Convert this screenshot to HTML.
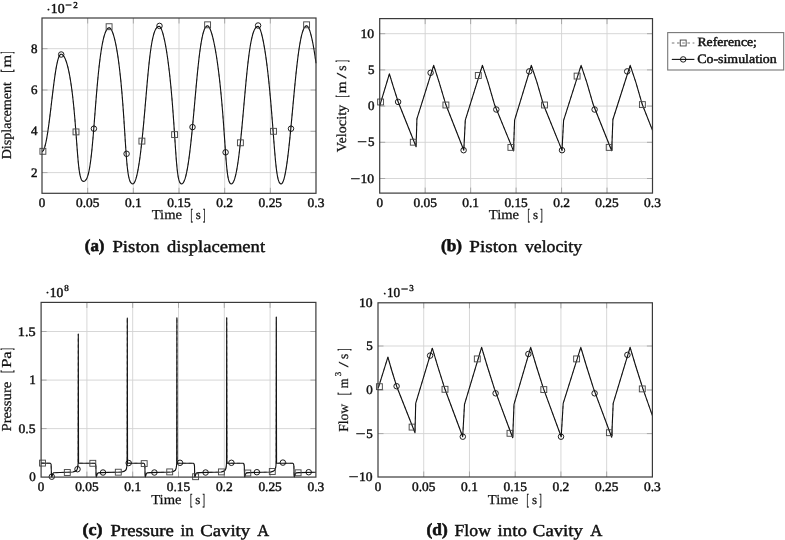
<!DOCTYPE html>
<html><head><meta charset="utf-8"><title>Figure</title><style>
html,body{margin:0;padding:0;background:#fff;}
svg{display:block;}
text{font-family:"Liberation Serif",serif;fill:#111;stroke:#111;stroke-width:0.45px;text-rendering:geometricPrecision;}
.tk{font-size:12.6px;}
.sup{font-size:9px;}
.lb{font-size:12.8px;}
.cap{font-size:15.4px;}
.cap .b{font-weight:bold;}
.lt{font-size:12.4px;}
.g{stroke:#d2d2d2;stroke-width:0.9;}
.tkm{stroke:#9a9a9a;stroke-width:0.8;}
.ax{fill:none;stroke:#3a3a3a;stroke-width:1.2;}
.ref{fill:none;stroke:#8a8a8a;stroke-width:0.9;stroke-dasharray:3 3;}
.cs{fill:none;stroke:#111;stroke-width:1.1;stroke-linejoin:round;}
.mk rect,.mk circle,.mkl{fill:none;stroke:#111;stroke-width:0.95;}
.mk rect,rect.mkl{stroke:#4a4a4a;}
.lg{fill:#fff;stroke:#777;stroke-width:1.1;}
</style></head>
<body><svg width="785" height="540" viewBox="0 0 785 540">
<rect width="785" height="540" fill="#fff"/>
<g>
<line class="g" x1="42.00" y1="172.60" x2="316.00" y2="172.60"/>
<line class="g" x1="42.00" y1="131.30" x2="316.00" y2="131.30"/>
<line class="g" x1="42.00" y1="90.00" x2="316.00" y2="90.00"/>
<line class="g" x1="42.00" y1="48.70" x2="316.00" y2="48.70"/>
<line class="g" x1="87.67" y1="18.00" x2="87.67" y2="193.30"/>
<line class="g" x1="133.33" y1="18.00" x2="133.33" y2="193.30"/>
<line class="g" x1="179.00" y1="18.00" x2="179.00" y2="193.30"/>
<line class="g" x1="224.67" y1="18.00" x2="224.67" y2="193.30"/>
<line class="g" x1="270.33" y1="18.00" x2="270.33" y2="193.30"/>
<line class="g" x1="379.70" y1="33.70" x2="652.50" y2="33.70"/>
<line class="g" x1="379.70" y1="69.90" x2="652.50" y2="69.90"/>
<line class="g" x1="379.70" y1="106.10" x2="652.50" y2="106.10"/>
<line class="g" x1="379.70" y1="142.30" x2="652.50" y2="142.30"/>
<line class="g" x1="379.70" y1="178.50" x2="652.50" y2="178.50"/>
<line class="g" x1="425.17" y1="18.60" x2="425.17" y2="193.10"/>
<line class="g" x1="470.63" y1="18.60" x2="470.63" y2="193.10"/>
<line class="g" x1="516.10" y1="18.60" x2="516.10" y2="193.10"/>
<line class="g" x1="561.57" y1="18.60" x2="561.57" y2="193.10"/>
<line class="g" x1="607.03" y1="18.60" x2="607.03" y2="193.10"/>
<line class="g" x1="41.10" y1="428.60" x2="315.90" y2="428.60"/>
<line class="g" x1="41.10" y1="380.10" x2="315.90" y2="380.10"/>
<line class="g" x1="41.10" y1="331.50" x2="315.90" y2="331.50"/>
<line class="g" x1="86.90" y1="302.40" x2="86.90" y2="477.10"/>
<line class="g" x1="132.70" y1="302.40" x2="132.70" y2="477.10"/>
<line class="g" x1="178.50" y1="302.40" x2="178.50" y2="477.10"/>
<line class="g" x1="224.30" y1="302.40" x2="224.30" y2="477.10"/>
<line class="g" x1="270.10" y1="302.40" x2="270.10" y2="477.10"/>
<line class="g" x1="378.00" y1="346.00" x2="652.40" y2="346.00"/>
<line class="g" x1="378.00" y1="390.00" x2="652.40" y2="390.00"/>
<line class="g" x1="378.00" y1="433.60" x2="652.40" y2="433.60"/>
<line class="g" x1="423.73" y1="302.80" x2="423.73" y2="477.00"/>
<line class="g" x1="469.47" y1="302.80" x2="469.47" y2="477.00"/>
<line class="g" x1="515.20" y1="302.80" x2="515.20" y2="477.00"/>
<line class="g" x1="560.93" y1="302.80" x2="560.93" y2="477.00"/>
<line class="g" x1="606.67" y1="302.80" x2="606.67" y2="477.00"/>
<line class="tkm" x1="42.00" y1="172.60" x2="47.50" y2="172.60"/>
<line class="tkm" x1="310.50" y1="172.60" x2="316.00" y2="172.60"/>
<line class="tkm" x1="42.00" y1="131.30" x2="47.50" y2="131.30"/>
<line class="tkm" x1="310.50" y1="131.30" x2="316.00" y2="131.30"/>
<line class="tkm" x1="42.00" y1="90.00" x2="47.50" y2="90.00"/>
<line class="tkm" x1="310.50" y1="90.00" x2="316.00" y2="90.00"/>
<line class="tkm" x1="42.00" y1="48.70" x2="47.50" y2="48.70"/>
<line class="tkm" x1="310.50" y1="48.70" x2="316.00" y2="48.70"/>
<line class="tkm" x1="87.67" y1="193.30" x2="87.67" y2="187.80"/>
<line class="tkm" x1="87.67" y1="18.00" x2="87.67" y2="23.50"/>
<line class="tkm" x1="133.33" y1="193.30" x2="133.33" y2="187.80"/>
<line class="tkm" x1="133.33" y1="18.00" x2="133.33" y2="23.50"/>
<line class="tkm" x1="179.00" y1="193.30" x2="179.00" y2="187.80"/>
<line class="tkm" x1="179.00" y1="18.00" x2="179.00" y2="23.50"/>
<line class="tkm" x1="224.67" y1="193.30" x2="224.67" y2="187.80"/>
<line class="tkm" x1="224.67" y1="18.00" x2="224.67" y2="23.50"/>
<line class="tkm" x1="270.33" y1="193.30" x2="270.33" y2="187.80"/>
<line class="tkm" x1="270.33" y1="18.00" x2="270.33" y2="23.50"/>
<line class="tkm" x1="379.70" y1="33.70" x2="385.20" y2="33.70"/>
<line class="tkm" x1="647.00" y1="33.70" x2="652.50" y2="33.70"/>
<line class="tkm" x1="379.70" y1="69.90" x2="385.20" y2="69.90"/>
<line class="tkm" x1="647.00" y1="69.90" x2="652.50" y2="69.90"/>
<line class="tkm" x1="379.70" y1="106.10" x2="385.20" y2="106.10"/>
<line class="tkm" x1="647.00" y1="106.10" x2="652.50" y2="106.10"/>
<line class="tkm" x1="379.70" y1="142.30" x2="385.20" y2="142.30"/>
<line class="tkm" x1="647.00" y1="142.30" x2="652.50" y2="142.30"/>
<line class="tkm" x1="379.70" y1="178.50" x2="385.20" y2="178.50"/>
<line class="tkm" x1="647.00" y1="178.50" x2="652.50" y2="178.50"/>
<line class="tkm" x1="425.17" y1="193.10" x2="425.17" y2="187.60"/>
<line class="tkm" x1="425.17" y1="18.60" x2="425.17" y2="24.10"/>
<line class="tkm" x1="470.63" y1="193.10" x2="470.63" y2="187.60"/>
<line class="tkm" x1="470.63" y1="18.60" x2="470.63" y2="24.10"/>
<line class="tkm" x1="516.10" y1="193.10" x2="516.10" y2="187.60"/>
<line class="tkm" x1="516.10" y1="18.60" x2="516.10" y2="24.10"/>
<line class="tkm" x1="561.57" y1="193.10" x2="561.57" y2="187.60"/>
<line class="tkm" x1="561.57" y1="18.60" x2="561.57" y2="24.10"/>
<line class="tkm" x1="607.03" y1="193.10" x2="607.03" y2="187.60"/>
<line class="tkm" x1="607.03" y1="18.60" x2="607.03" y2="24.10"/>
<line class="tkm" x1="41.10" y1="428.60" x2="46.60" y2="428.60"/>
<line class="tkm" x1="310.40" y1="428.60" x2="315.90" y2="428.60"/>
<line class="tkm" x1="41.10" y1="380.10" x2="46.60" y2="380.10"/>
<line class="tkm" x1="310.40" y1="380.10" x2="315.90" y2="380.10"/>
<line class="tkm" x1="41.10" y1="331.50" x2="46.60" y2="331.50"/>
<line class="tkm" x1="310.40" y1="331.50" x2="315.90" y2="331.50"/>
<line class="tkm" x1="86.90" y1="477.10" x2="86.90" y2="471.60"/>
<line class="tkm" x1="86.90" y1="302.40" x2="86.90" y2="307.90"/>
<line class="tkm" x1="132.70" y1="477.10" x2="132.70" y2="471.60"/>
<line class="tkm" x1="132.70" y1="302.40" x2="132.70" y2="307.90"/>
<line class="tkm" x1="178.50" y1="477.10" x2="178.50" y2="471.60"/>
<line class="tkm" x1="178.50" y1="302.40" x2="178.50" y2="307.90"/>
<line class="tkm" x1="224.30" y1="477.10" x2="224.30" y2="471.60"/>
<line class="tkm" x1="224.30" y1="302.40" x2="224.30" y2="307.90"/>
<line class="tkm" x1="270.10" y1="477.10" x2="270.10" y2="471.60"/>
<line class="tkm" x1="270.10" y1="302.40" x2="270.10" y2="307.90"/>
<line class="tkm" x1="378.00" y1="346.00" x2="383.50" y2="346.00"/>
<line class="tkm" x1="646.90" y1="346.00" x2="652.40" y2="346.00"/>
<line class="tkm" x1="378.00" y1="390.00" x2="383.50" y2="390.00"/>
<line class="tkm" x1="646.90" y1="390.00" x2="652.40" y2="390.00"/>
<line class="tkm" x1="378.00" y1="433.60" x2="383.50" y2="433.60"/>
<line class="tkm" x1="646.90" y1="433.60" x2="652.40" y2="433.60"/>
<line class="tkm" x1="423.73" y1="477.00" x2="423.73" y2="471.50"/>
<line class="tkm" x1="423.73" y1="302.80" x2="423.73" y2="308.30"/>
<line class="tkm" x1="469.47" y1="477.00" x2="469.47" y2="471.50"/>
<line class="tkm" x1="469.47" y1="302.80" x2="469.47" y2="308.30"/>
<line class="tkm" x1="515.20" y1="477.00" x2="515.20" y2="471.50"/>
<line class="tkm" x1="515.20" y1="302.80" x2="515.20" y2="308.30"/>
<line class="tkm" x1="560.93" y1="477.00" x2="560.93" y2="471.50"/>
<line class="tkm" x1="560.93" y1="302.80" x2="560.93" y2="308.30"/>
<line class="tkm" x1="606.67" y1="477.00" x2="606.67" y2="471.50"/>
<line class="tkm" x1="606.67" y1="302.80" x2="606.67" y2="308.30"/>
<path class="ref" d="M42.00,151.50 L42.34,151.43 L42.69,151.22 L43.03,150.88 L43.37,150.40 L43.71,149.79 L44.04,149.04 L44.37,148.16 L44.71,147.15 L45.04,146.02 L45.36,144.76 L45.69,143.39 L46.02,141.90 L46.34,140.30 L46.66,138.60 L46.98,136.79 L47.30,134.89 L47.62,132.89 L47.93,130.81 L48.25,128.65 L48.56,126.42 L48.88,124.13 L49.19,121.77 L49.50,119.35 L49.81,116.89 L50.12,114.40 L50.42,111.86 L50.73,109.31 L51.04,106.73 L51.35,104.15 L51.65,101.55 L51.96,98.97 L52.27,96.39 L52.58,93.84 L52.88,91.30 L53.19,88.81 L53.50,86.35 L53.81,83.93 L54.12,81.57 L54.43,79.28 L54.74,77.05 L55.05,74.89 L55.37,72.81 L55.68,70.81 L56.00,68.91 L56.32,67.10 L56.64,65.40 L56.97,63.80 L57.29,62.31 L57.62,60.94 L57.95,59.68 L58.29,58.55 L58.63,57.54 L58.97,56.66 L59.31,55.91 L59.66,55.30 L60.02,54.82 L60.37,54.48 L60.73,54.27 L61.10,54.20 L61.67,54.29 L62.25,54.56 L62.82,55.01 L63.39,55.64 L63.96,56.44 L64.53,57.42 L65.08,58.57 L65.64,59.88 L66.18,61.36 L66.72,63.01 L67.25,64.80 L67.76,66.75 L68.27,68.84 L68.77,71.07 L69.25,73.43 L69.72,75.92 L70.18,78.53 L70.62,81.24 L71.05,84.07 L71.47,86.98 L71.88,89.99 L72.27,93.07 L72.64,96.22 L73.01,99.44 L73.36,102.71 L73.69,106.02 L74.02,109.36 L74.33,112.73 L74.63,116.11 L74.92,119.49 L75.19,122.87 L75.46,126.24 L75.72,129.58 L75.97,132.89 L76.22,136.16 L76.45,139.38 L76.68,142.53 L76.91,145.61 L77.14,148.62 L77.36,151.53 L77.58,154.36 L77.81,157.07 L78.03,159.68 L78.26,162.17 L78.50,164.53 L78.75,166.76 L79.00,168.85 L79.27,170.80 L79.55,172.59 L79.85,174.24 L80.16,175.72 L80.50,177.03 L80.85,178.18 L81.23,179.16 L81.64,179.96 L82.08,180.59 L82.55,181.04 L83.06,181.31 L83.60,181.40 L84.27,181.29 L84.91,180.96 L85.52,180.42 L86.09,179.66 L86.64,178.69 L87.17,177.51 L87.67,176.13 L88.15,174.54 L88.60,172.75 L89.04,170.77 L89.46,168.60 L89.86,166.25 L90.25,163.72 L90.62,161.03 L90.99,158.18 L91.34,155.17 L91.68,152.03 L92.01,148.74 L92.34,145.34 L92.66,141.81 L92.98,138.19 L93.30,134.46 L93.61,130.65 L93.92,126.77 L94.23,122.83 L94.54,118.83 L94.85,114.79 L95.17,110.73 L95.49,106.64 L95.81,102.56 L96.14,98.47 L96.47,94.41 L96.81,90.37 L97.16,86.37 L97.52,82.43 L97.88,78.55 L98.25,74.74 L98.63,71.01 L99.02,67.39 L99.42,63.86 L99.83,60.46 L100.25,57.17 L100.69,54.03 L101.13,51.02 L101.59,48.17 L102.05,45.48 L102.53,42.95 L103.02,40.60 L103.53,38.43 L104.04,36.45 L104.57,34.66 L105.11,33.07 L105.66,31.69 L106.22,30.51 L106.79,29.54 L107.38,28.78 L107.98,28.24 L108.58,27.91 L109.20,27.80 L109.70,27.91 L110.21,28.24 L110.73,28.79 L111.26,29.56 L111.80,30.55 L112.34,31.75 L112.88,33.16 L113.42,34.77 L113.96,36.59 L114.50,38.61 L115.03,40.81 L115.56,43.20 L116.08,45.76 L116.59,48.50 L117.09,51.40 L117.58,54.45 L118.07,57.65 L118.53,60.99 L118.99,64.45 L119.43,68.03 L119.86,71.72 L120.28,75.50 L120.68,79.37 L121.07,83.32 L121.44,87.33 L121.80,91.39 L122.15,95.49 L122.48,99.62 L122.80,103.77 L123.11,107.93 L123.40,112.08 L123.69,116.21 L123.96,120.31 L124.22,124.37 L124.48,128.38 L124.73,132.33 L124.98,136.20 L125.21,139.98 L125.45,143.67 L125.69,147.25 L125.92,150.71 L126.16,154.05 L126.40,157.25 L126.65,160.30 L126.91,163.20 L127.17,165.94 L127.45,168.50 L127.75,170.89 L128.06,173.09 L128.39,175.11 L128.75,176.93 L129.13,178.54 L129.54,179.95 L129.99,181.15 L130.47,182.14 L130.98,182.91 L131.54,183.46 L132.15,183.79 L132.80,183.90 L133.25,183.79 L133.71,183.45 L134.17,182.90 L134.63,182.12 L135.09,181.13 L135.55,179.92 L136.01,178.49 L136.47,176.86 L136.92,175.03 L137.38,173.00 L137.82,170.77 L138.27,168.36 L138.71,165.77 L139.15,163.01 L139.58,160.09 L140.01,157.01 L140.43,153.78 L140.84,150.41 L141.25,146.92 L141.66,143.31 L142.06,139.59 L142.45,135.77 L142.84,131.87 L143.23,127.88 L143.61,123.84 L143.98,119.74 L144.35,115.60 L144.72,111.43 L145.08,107.25 L145.44,103.05 L145.80,98.87 L146.16,94.70 L146.52,90.56 L146.87,86.46 L147.23,82.42 L147.59,78.43 L147.95,74.53 L148.32,70.71 L148.69,66.99 L149.07,63.38 L149.45,59.89 L149.84,56.52 L150.25,53.29 L150.66,50.21 L151.08,47.29 L151.52,44.53 L151.97,41.94 L152.44,39.53 L152.93,37.30 L153.44,35.27 L153.97,33.44 L154.52,31.81 L155.10,30.38 L155.70,29.17 L156.34,28.18 L157.00,27.40 L157.70,26.85 L158.43,26.51 L159.20,26.40 L159.60,26.51 L160.02,26.85 L160.46,27.40 L160.92,28.18 L161.39,29.17 L161.87,30.38 L162.37,31.81 L162.87,33.44 L163.37,35.27 L163.88,37.30 L164.38,39.53 L164.89,41.94 L165.40,44.53 L165.90,47.29 L166.40,50.21 L166.89,53.29 L167.37,56.52 L167.85,59.89 L168.31,63.38 L168.77,66.99 L169.21,70.71 L169.64,74.53 L170.07,78.43 L170.47,82.42 L170.87,86.46 L171.25,90.56 L171.62,94.70 L171.98,98.87 L172.32,103.05 L172.65,107.25 L172.97,111.43 L173.28,115.60 L173.57,119.74 L173.86,123.84 L174.13,127.88 L174.40,131.87 L174.65,135.77 L174.90,139.59 L175.15,143.31 L175.39,146.92 L175.62,150.41 L175.86,153.78 L176.09,157.01 L176.33,160.09 L176.57,163.01 L176.82,165.77 L177.07,168.36 L177.33,170.77 L177.61,173.00 L177.90,175.03 L178.20,176.86 L178.53,178.49 L178.88,179.92 L179.25,181.13 L179.65,182.12 L180.09,182.90 L180.55,183.45 L181.06,183.79 L181.60,183.90 L182.12,183.79 L182.64,183.45 L183.15,182.89 L183.65,182.11 L184.14,181.11 L184.63,179.90 L185.12,178.47 L185.59,176.84 L186.06,175.00 L186.53,172.96 L186.98,170.72 L187.43,168.30 L187.88,165.71 L188.32,162.93 L188.75,160.00 L189.17,156.91 L189.60,153.67 L190.01,150.29 L190.42,146.78 L190.83,143.15 L191.23,139.42 L191.63,135.59 L192.02,131.67 L192.41,127.67 L192.80,123.61 L193.18,119.50 L193.56,115.34 L193.94,111.16 L194.32,106.95 L194.70,102.75 L195.07,98.54 L195.44,94.36 L195.82,90.20 L196.19,86.09 L196.57,82.03 L196.95,78.03 L197.33,74.11 L197.71,70.28 L198.10,66.55 L198.49,62.92 L198.88,59.41 L199.28,56.03 L199.69,52.79 L200.10,49.70 L200.52,46.77 L200.95,43.99 L201.38,41.40 L201.83,38.98 L202.29,36.74 L202.75,34.70 L203.23,32.86 L203.72,31.23 L204.23,29.80 L204.75,28.59 L205.29,27.59 L205.84,26.81 L206.41,26.25 L206.99,25.91 L207.60,25.80 L208.02,25.91 L208.46,26.25 L208.93,26.81 L209.41,27.59 L209.92,28.59 L210.43,29.80 L210.96,31.23 L211.50,32.86 L212.04,34.70 L212.59,36.74 L213.14,38.98 L213.70,41.40 L214.25,43.99 L214.80,46.77 L215.34,49.70 L215.88,52.79 L216.41,56.03 L216.93,59.41 L217.44,62.92 L217.94,66.55 L218.43,70.28 L218.90,74.11 L219.36,78.03 L219.81,82.03 L220.25,86.09 L220.67,90.20 L221.07,94.36 L221.46,98.54 L221.84,102.75 L222.20,106.95 L222.55,111.16 L222.88,115.34 L223.20,119.50 L223.51,123.61 L223.80,127.67 L224.08,131.67 L224.36,135.59 L224.62,139.42 L224.88,143.15 L225.13,146.78 L225.37,150.29 L225.61,153.67 L225.85,156.91 L226.09,160.00 L226.34,162.93 L226.58,165.71 L226.83,168.30 L227.10,170.72 L227.37,172.96 L227.65,175.00 L227.95,176.84 L228.27,178.47 L228.62,179.90 L228.98,181.11 L229.38,182.11 L229.80,182.89 L230.26,183.45 L230.76,183.79 L231.30,183.90 L231.81,183.79 L232.32,183.45 L232.82,182.90 L233.31,182.12 L233.80,181.13 L234.27,179.92 L234.75,178.49 L235.21,176.86 L235.67,175.03 L236.12,173.00 L236.57,170.77 L237.01,168.36 L237.44,165.77 L237.87,163.01 L238.29,160.09 L238.71,157.01 L239.12,153.78 L239.52,150.41 L239.92,146.92 L240.31,143.31 L240.71,139.59 L241.09,135.77 L241.48,131.87 L241.86,127.88 L242.23,123.84 L242.61,119.74 L242.98,115.60 L243.35,111.43 L243.72,107.25 L244.09,103.05 L244.46,98.87 L244.84,94.70 L245.21,90.56 L245.58,86.46 L245.96,82.42 L246.34,78.43 L246.73,74.53 L247.12,70.71 L247.52,66.99 L247.92,63.38 L248.33,59.89 L248.75,56.52 L249.17,53.29 L249.61,50.21 L250.06,47.29 L250.51,44.53 L250.99,41.94 L251.47,39.53 L251.97,37.30 L252.49,35.27 L253.02,33.44 L253.57,31.81 L254.13,30.38 L254.72,29.17 L255.33,28.18 L255.96,27.40 L256.62,26.85 L257.30,26.51 L258.00,26.40 L258.38,26.51 L258.78,26.85 L259.20,27.40 L259.63,28.18 L260.07,29.17 L260.53,30.38 L261.00,31.81 L261.47,33.44 L261.95,35.27 L262.43,37.30 L262.92,39.53 L263.41,41.94 L263.89,44.53 L264.38,47.29 L264.86,50.21 L265.34,53.29 L265.81,56.52 L266.28,59.89 L266.74,63.38 L267.19,66.99 L267.63,70.71 L268.07,74.53 L268.50,78.43 L268.91,82.42 L269.32,86.46 L269.72,90.56 L270.10,94.70 L270.48,98.87 L270.85,103.05 L271.20,107.25 L271.55,111.43 L271.89,115.60 L272.22,119.74 L272.54,123.84 L272.85,127.88 L273.15,131.87 L273.45,135.77 L273.74,139.59 L274.03,143.31 L274.32,146.92 L274.60,150.41 L274.88,153.78 L275.16,157.01 L275.44,160.09 L275.73,163.01 L276.02,165.77 L276.31,168.36 L276.62,170.77 L276.93,173.00 L277.26,175.03 L277.60,176.86 L277.96,178.49 L278.33,179.92 L278.73,181.13 L279.15,182.12 L279.59,182.90 L280.06,183.45 L280.56,183.79 L281.10,183.90 L281.54,183.79 L281.98,183.45 L282.41,182.89 L282.85,182.11 L283.27,181.11 L283.70,179.90 L284.12,178.47 L284.54,176.84 L284.95,175.00 L285.37,172.96 L285.77,170.72 L286.18,168.30 L286.59,165.71 L286.99,162.93 L287.39,160.00 L287.78,156.91 L288.18,153.67 L288.57,150.29 L288.96,146.78 L289.35,143.15 L289.74,139.42 L290.12,135.59 L290.51,131.67 L290.90,127.67 L291.28,123.61 L291.67,119.50 L292.05,115.34 L292.44,111.16 L292.82,106.95 L293.21,102.75 L293.60,98.54 L293.99,94.36 L294.38,90.20 L294.78,86.09 L295.18,82.03 L295.58,78.03 L295.98,74.11 L296.39,70.28 L296.80,66.55 L297.22,62.92 L297.65,59.41 L298.07,56.03 L298.51,52.79 L298.95,49.70 L299.40,46.77 L299.85,43.99 L300.32,41.40 L300.79,38.98 L301.27,36.74 L301.76,34.70 L302.26,32.86 L302.77,31.23 L303.30,29.80 L303.83,28.59 L304.38,27.59 L304.94,26.81 L305.51,26.25 L306.10,25.91 L306.70,25.80 L307.19,25.96 L307.71,26.42 L308.26,27.20 L308.82,28.29 L309.39,29.67 L309.98,31.36 L310.57,33.33 L311.17,35.59 L311.77,38.12 L312.38,40.91 L312.98,43.96 L313.58,47.25 L314.17,50.76 L314.76,54.49 L315.34,58.41 L315.90,62.52 L316.00,63.24"/>
<path class="cs" d="M42.00,151.50 L42.34,151.43 L42.69,151.22 L43.03,150.88 L43.37,150.40 L43.71,149.79 L44.04,149.04 L44.37,148.16 L44.71,147.15 L45.04,146.02 L45.36,144.76 L45.69,143.39 L46.02,141.90 L46.34,140.30 L46.66,138.60 L46.98,136.79 L47.30,134.89 L47.62,132.89 L47.93,130.81 L48.25,128.65 L48.56,126.42 L48.88,124.13 L49.19,121.77 L49.50,119.35 L49.81,116.89 L50.12,114.40 L50.42,111.86 L50.73,109.31 L51.04,106.73 L51.35,104.15 L51.65,101.55 L51.96,98.97 L52.27,96.39 L52.58,93.84 L52.88,91.30 L53.19,88.81 L53.50,86.35 L53.81,83.93 L54.12,81.57 L54.43,79.28 L54.74,77.05 L55.05,74.89 L55.37,72.81 L55.68,70.81 L56.00,68.91 L56.32,67.10 L56.64,65.40 L56.97,63.80 L57.29,62.31 L57.62,60.94 L57.95,59.68 L58.29,58.55 L58.63,57.54 L58.97,56.66 L59.31,55.91 L59.66,55.30 L60.02,54.82 L60.37,54.48 L60.73,54.27 L61.10,54.20 L61.67,54.29 L62.25,54.56 L62.82,55.01 L63.39,55.64 L63.96,56.44 L64.53,57.42 L65.08,58.57 L65.64,59.88 L66.18,61.36 L66.72,63.01 L67.25,64.80 L67.76,66.75 L68.27,68.84 L68.77,71.07 L69.25,73.43 L69.72,75.92 L70.18,78.53 L70.62,81.24 L71.05,84.07 L71.47,86.98 L71.88,89.99 L72.27,93.07 L72.64,96.22 L73.01,99.44 L73.36,102.71 L73.69,106.02 L74.02,109.36 L74.33,112.73 L74.63,116.11 L74.92,119.49 L75.19,122.87 L75.46,126.24 L75.72,129.58 L75.97,132.89 L76.22,136.16 L76.45,139.38 L76.68,142.53 L76.91,145.61 L77.14,148.62 L77.36,151.53 L77.58,154.36 L77.81,157.07 L78.03,159.68 L78.26,162.17 L78.50,164.53 L78.75,166.76 L79.00,168.85 L79.27,170.80 L79.55,172.59 L79.85,174.24 L80.16,175.72 L80.50,177.03 L80.85,178.18 L81.23,179.16 L81.64,179.96 L82.08,180.59 L82.55,181.04 L83.06,181.31 L83.60,181.40 L84.27,181.29 L84.91,180.96 L85.52,180.42 L86.09,179.66 L86.64,178.69 L87.17,177.51 L87.67,176.13 L88.15,174.54 L88.60,172.75 L89.04,170.77 L89.46,168.60 L89.86,166.25 L90.25,163.72 L90.62,161.03 L90.99,158.18 L91.34,155.17 L91.68,152.03 L92.01,148.74 L92.34,145.34 L92.66,141.81 L92.98,138.19 L93.30,134.46 L93.61,130.65 L93.92,126.77 L94.23,122.83 L94.54,118.83 L94.85,114.79 L95.17,110.73 L95.49,106.64 L95.81,102.56 L96.14,98.47 L96.47,94.41 L96.81,90.37 L97.16,86.37 L97.52,82.43 L97.88,78.55 L98.25,74.74 L98.63,71.01 L99.02,67.39 L99.42,63.86 L99.83,60.46 L100.25,57.17 L100.69,54.03 L101.13,51.02 L101.59,48.17 L102.05,45.48 L102.53,42.95 L103.02,40.60 L103.53,38.43 L104.04,36.45 L104.57,34.66 L105.11,33.07 L105.66,31.69 L106.22,30.51 L106.79,29.54 L107.38,28.78 L107.98,28.24 L108.58,27.91 L109.20,27.80 L109.70,27.91 L110.21,28.24 L110.73,28.79 L111.26,29.56 L111.80,30.55 L112.34,31.75 L112.88,33.16 L113.42,34.77 L113.96,36.59 L114.50,38.61 L115.03,40.81 L115.56,43.20 L116.08,45.76 L116.59,48.50 L117.09,51.40 L117.58,54.45 L118.07,57.65 L118.53,60.99 L118.99,64.45 L119.43,68.03 L119.86,71.72 L120.28,75.50 L120.68,79.37 L121.07,83.32 L121.44,87.33 L121.80,91.39 L122.15,95.49 L122.48,99.62 L122.80,103.77 L123.11,107.93 L123.40,112.08 L123.69,116.21 L123.96,120.31 L124.22,124.37 L124.48,128.38 L124.73,132.33 L124.98,136.20 L125.21,139.98 L125.45,143.67 L125.69,147.25 L125.92,150.71 L126.16,154.05 L126.40,157.25 L126.65,160.30 L126.91,163.20 L127.17,165.94 L127.45,168.50 L127.75,170.89 L128.06,173.09 L128.39,175.11 L128.75,176.93 L129.13,178.54 L129.54,179.95 L129.99,181.15 L130.47,182.14 L130.98,182.91 L131.54,183.46 L132.15,183.79 L132.80,183.90 L133.25,183.79 L133.71,183.45 L134.17,182.90 L134.63,182.12 L135.09,181.13 L135.55,179.92 L136.01,178.49 L136.47,176.86 L136.92,175.03 L137.38,173.00 L137.82,170.77 L138.27,168.36 L138.71,165.77 L139.15,163.01 L139.58,160.09 L140.01,157.01 L140.43,153.78 L140.84,150.41 L141.25,146.92 L141.66,143.31 L142.06,139.59 L142.45,135.77 L142.84,131.87 L143.23,127.88 L143.61,123.84 L143.98,119.74 L144.35,115.60 L144.72,111.43 L145.08,107.25 L145.44,103.05 L145.80,98.87 L146.16,94.70 L146.52,90.56 L146.87,86.46 L147.23,82.42 L147.59,78.43 L147.95,74.53 L148.32,70.71 L148.69,66.99 L149.07,63.38 L149.45,59.89 L149.84,56.52 L150.25,53.29 L150.66,50.21 L151.08,47.29 L151.52,44.53 L151.97,41.94 L152.44,39.53 L152.93,37.30 L153.44,35.27 L153.97,33.44 L154.52,31.81 L155.10,30.38 L155.70,29.17 L156.34,28.18 L157.00,27.40 L157.70,26.85 L158.43,26.51 L159.20,26.40 L159.60,26.51 L160.02,26.85 L160.46,27.40 L160.92,28.18 L161.39,29.17 L161.87,30.38 L162.37,31.81 L162.87,33.44 L163.37,35.27 L163.88,37.30 L164.38,39.53 L164.89,41.94 L165.40,44.53 L165.90,47.29 L166.40,50.21 L166.89,53.29 L167.37,56.52 L167.85,59.89 L168.31,63.38 L168.77,66.99 L169.21,70.71 L169.64,74.53 L170.07,78.43 L170.47,82.42 L170.87,86.46 L171.25,90.56 L171.62,94.70 L171.98,98.87 L172.32,103.05 L172.65,107.25 L172.97,111.43 L173.28,115.60 L173.57,119.74 L173.86,123.84 L174.13,127.88 L174.40,131.87 L174.65,135.77 L174.90,139.59 L175.15,143.31 L175.39,146.92 L175.62,150.41 L175.86,153.78 L176.09,157.01 L176.33,160.09 L176.57,163.01 L176.82,165.77 L177.07,168.36 L177.33,170.77 L177.61,173.00 L177.90,175.03 L178.20,176.86 L178.53,178.49 L178.88,179.92 L179.25,181.13 L179.65,182.12 L180.09,182.90 L180.55,183.45 L181.06,183.79 L181.60,183.90 L182.12,183.79 L182.64,183.45 L183.15,182.89 L183.65,182.11 L184.14,181.11 L184.63,179.90 L185.12,178.47 L185.59,176.84 L186.06,175.00 L186.53,172.96 L186.98,170.72 L187.43,168.30 L187.88,165.71 L188.32,162.93 L188.75,160.00 L189.17,156.91 L189.60,153.67 L190.01,150.29 L190.42,146.78 L190.83,143.15 L191.23,139.42 L191.63,135.59 L192.02,131.67 L192.41,127.67 L192.80,123.61 L193.18,119.50 L193.56,115.34 L193.94,111.16 L194.32,106.95 L194.70,102.75 L195.07,98.54 L195.44,94.36 L195.82,90.20 L196.19,86.09 L196.57,82.03 L196.95,78.03 L197.33,74.11 L197.71,70.28 L198.10,66.55 L198.49,62.92 L198.88,59.41 L199.28,56.03 L199.69,52.79 L200.10,49.70 L200.52,46.77 L200.95,43.99 L201.38,41.40 L201.83,38.98 L202.29,36.74 L202.75,34.70 L203.23,32.86 L203.72,31.23 L204.23,29.80 L204.75,28.59 L205.29,27.59 L205.84,26.81 L206.41,26.25 L206.99,25.91 L207.60,25.80 L208.02,25.91 L208.46,26.25 L208.93,26.81 L209.41,27.59 L209.92,28.59 L210.43,29.80 L210.96,31.23 L211.50,32.86 L212.04,34.70 L212.59,36.74 L213.14,38.98 L213.70,41.40 L214.25,43.99 L214.80,46.77 L215.34,49.70 L215.88,52.79 L216.41,56.03 L216.93,59.41 L217.44,62.92 L217.94,66.55 L218.43,70.28 L218.90,74.11 L219.36,78.03 L219.81,82.03 L220.25,86.09 L220.67,90.20 L221.07,94.36 L221.46,98.54 L221.84,102.75 L222.20,106.95 L222.55,111.16 L222.88,115.34 L223.20,119.50 L223.51,123.61 L223.80,127.67 L224.08,131.67 L224.36,135.59 L224.62,139.42 L224.88,143.15 L225.13,146.78 L225.37,150.29 L225.61,153.67 L225.85,156.91 L226.09,160.00 L226.34,162.93 L226.58,165.71 L226.83,168.30 L227.10,170.72 L227.37,172.96 L227.65,175.00 L227.95,176.84 L228.27,178.47 L228.62,179.90 L228.98,181.11 L229.38,182.11 L229.80,182.89 L230.26,183.45 L230.76,183.79 L231.30,183.90 L231.81,183.79 L232.32,183.45 L232.82,182.90 L233.31,182.12 L233.80,181.13 L234.27,179.92 L234.75,178.49 L235.21,176.86 L235.67,175.03 L236.12,173.00 L236.57,170.77 L237.01,168.36 L237.44,165.77 L237.87,163.01 L238.29,160.09 L238.71,157.01 L239.12,153.78 L239.52,150.41 L239.92,146.92 L240.31,143.31 L240.71,139.59 L241.09,135.77 L241.48,131.87 L241.86,127.88 L242.23,123.84 L242.61,119.74 L242.98,115.60 L243.35,111.43 L243.72,107.25 L244.09,103.05 L244.46,98.87 L244.84,94.70 L245.21,90.56 L245.58,86.46 L245.96,82.42 L246.34,78.43 L246.73,74.53 L247.12,70.71 L247.52,66.99 L247.92,63.38 L248.33,59.89 L248.75,56.52 L249.17,53.29 L249.61,50.21 L250.06,47.29 L250.51,44.53 L250.99,41.94 L251.47,39.53 L251.97,37.30 L252.49,35.27 L253.02,33.44 L253.57,31.81 L254.13,30.38 L254.72,29.17 L255.33,28.18 L255.96,27.40 L256.62,26.85 L257.30,26.51 L258.00,26.40 L258.38,26.51 L258.78,26.85 L259.20,27.40 L259.63,28.18 L260.07,29.17 L260.53,30.38 L261.00,31.81 L261.47,33.44 L261.95,35.27 L262.43,37.30 L262.92,39.53 L263.41,41.94 L263.89,44.53 L264.38,47.29 L264.86,50.21 L265.34,53.29 L265.81,56.52 L266.28,59.89 L266.74,63.38 L267.19,66.99 L267.63,70.71 L268.07,74.53 L268.50,78.43 L268.91,82.42 L269.32,86.46 L269.72,90.56 L270.10,94.70 L270.48,98.87 L270.85,103.05 L271.20,107.25 L271.55,111.43 L271.89,115.60 L272.22,119.74 L272.54,123.84 L272.85,127.88 L273.15,131.87 L273.45,135.77 L273.74,139.59 L274.03,143.31 L274.32,146.92 L274.60,150.41 L274.88,153.78 L275.16,157.01 L275.44,160.09 L275.73,163.01 L276.02,165.77 L276.31,168.36 L276.62,170.77 L276.93,173.00 L277.26,175.03 L277.60,176.86 L277.96,178.49 L278.33,179.92 L278.73,181.13 L279.15,182.12 L279.59,182.90 L280.06,183.45 L280.56,183.79 L281.10,183.90 L281.54,183.79 L281.98,183.45 L282.41,182.89 L282.85,182.11 L283.27,181.11 L283.70,179.90 L284.12,178.47 L284.54,176.84 L284.95,175.00 L285.37,172.96 L285.77,170.72 L286.18,168.30 L286.59,165.71 L286.99,162.93 L287.39,160.00 L287.78,156.91 L288.18,153.67 L288.57,150.29 L288.96,146.78 L289.35,143.15 L289.74,139.42 L290.12,135.59 L290.51,131.67 L290.90,127.67 L291.28,123.61 L291.67,119.50 L292.05,115.34 L292.44,111.16 L292.82,106.95 L293.21,102.75 L293.60,98.54 L293.99,94.36 L294.38,90.20 L294.78,86.09 L295.18,82.03 L295.58,78.03 L295.98,74.11 L296.39,70.28 L296.80,66.55 L297.22,62.92 L297.65,59.41 L298.07,56.03 L298.51,52.79 L298.95,49.70 L299.40,46.77 L299.85,43.99 L300.32,41.40 L300.79,38.98 L301.27,36.74 L301.76,34.70 L302.26,32.86 L302.77,31.23 L303.30,29.80 L303.83,28.59 L304.38,27.59 L304.94,26.81 L305.51,26.25 L306.10,25.91 L306.70,25.80 L307.19,25.96 L307.71,26.42 L308.26,27.20 L308.82,28.29 L309.39,29.67 L309.98,31.36 L310.57,33.33 L311.17,35.59 L311.77,38.12 L312.38,40.91 L312.98,43.96 L313.58,47.25 L314.17,50.76 L314.76,54.49 L315.34,58.41 L315.90,62.52 L316.00,63.24"/>
<path class="ref" d="M379.70,105.90 L389.40,73.80 L393.20,86.30 L398.20,102.00 L416.10,146.70 L416.90,118.90 L433.70,65.30 L439.10,82.20 L445.90,104.80 L463.80,150.20 L465.30,120.20 L482.40,65.30 L488.00,82.20 L494.60,104.80 L513.50,150.90 L514.60,120.20 L531.30,65.30 L536.90,82.20 L543.50,104.80 L562.00,150.40 L563.60,120.30 L581.10,65.30 L586.70,82.20 L593.30,104.80 L611.70,150.80 L612.90,119.50 L630.20,65.30 L635.80,82.20 L642.40,104.80 L652.50,130.40"/>
<path class="cs" d="M379.70,105.90 L389.40,73.80 L393.20,86.30 L398.20,102.00 L416.10,146.70 L416.90,118.90 L433.70,65.30 L439.10,82.20 L445.90,104.80 L463.80,150.20 L465.30,120.20 L482.40,65.30 L488.00,82.20 L494.60,104.80 L513.50,150.90 L514.60,120.20 L531.30,65.30 L536.90,82.20 L543.50,104.80 L562.00,150.40 L563.60,120.30 L581.10,65.30 L586.70,82.20 L593.30,104.80 L611.70,150.80 L612.90,119.50 L630.20,65.30 L635.80,82.20 L642.40,104.80 L652.50,130.40"/>
<path class="ref" d="M378.30,387.80 L387.90,357.10 L391.60,370.00 L396.60,386.20 L415.00,432.70 L415.70,403.30 L432.30,348.20 L437.90,366.90 L445.00,389.30 L462.70,436.70 L464.50,404.40 L481.60,347.30 L487.20,366.00 L494.30,388.40 L512.70,437.80 L514.00,404.40 L530.70,347.30 L536.30,366.00 L543.40,388.40 L561.20,436.70 L563.20,403.30 L580.80,347.30 L586.40,366.00 L593.50,388.40 L611.70,437.30 L613.20,403.30 L630.10,347.30 L635.70,366.00 L642.80,388.40 L652.40,415.60"/>
<path class="cs" d="M378.30,387.80 L387.90,357.10 L391.60,370.00 L396.60,386.20 L415.00,432.70 L415.70,403.30 L432.30,348.20 L437.90,366.90 L445.00,389.30 L462.70,436.70 L464.50,404.40 L481.60,347.30 L487.20,366.00 L494.30,388.40 L512.70,437.80 L514.00,404.40 L530.70,347.30 L536.30,366.00 L543.40,388.40 L561.20,436.70 L563.20,403.30 L580.80,347.30 L586.40,366.00 L593.50,388.40 L611.70,437.30 L613.20,403.30 L630.10,347.30 L635.70,366.00 L642.80,388.40 L652.40,415.60"/>
<path class="ref" d="M41.10,463.10 L50.40,463.20 L51.10,464.20 L51.50,476.50 L51.90,476.90 L52.60,474.00 L53.50,472.80 L72.80,472.00 L74.80,471.40 L76.70,470.30 L77.40,468.80 L77.90,466.00 L78.10,463.00 L78.30,334.10 L78.55,463.00 L79.10,463.10 L94.90,463.30 L95.50,463.80 L95.90,466.00 L96.10,476.50 L96.40,476.90 L97.10,474.20 L98.10,472.90 L100.80,472.60 L121.80,472.00 L123.80,471.40 L125.70,470.30 L126.40,468.80 L126.90,466.00 L127.10,463.00 L127.30,318.00 L127.55,463.00 L128.10,463.10 L143.90,463.30 L144.50,463.80 L144.90,466.00 L145.10,476.50 L145.40,476.90 L146.10,474.20 L147.10,472.90 L149.80,472.60 L171.40,472.00 L173.40,471.40 L175.30,470.30 L176.00,468.80 L176.50,466.00 L176.70,463.00 L176.90,317.80 L177.15,463.00 L177.70,463.10 L193.50,463.30 L194.10,463.80 L194.50,466.00 L194.70,476.50 L195.00,476.90 L195.70,474.20 L196.70,472.90 L199.40,472.60 L221.20,472.00 L223.20,471.40 L225.10,470.30 L225.80,468.80 L226.30,466.00 L226.50,463.00 L226.70,317.80 L226.95,463.00 L227.50,463.10 L243.30,463.30 L243.90,463.80 L244.30,466.00 L244.50,476.50 L244.80,476.90 L245.50,474.20 L246.50,472.90 L249.20,472.60 L270.80,472.00 L272.80,471.40 L274.70,470.30 L275.40,468.80 L275.90,466.00 L276.10,463.00 L276.30,317.10 L276.55,463.00 L277.10,463.10 L292.90,463.30 L293.50,463.80 L293.90,466.00 L294.10,476.50 L294.40,476.90 L295.10,474.20 L296.10,472.90 L298.80,472.60 L315.90,472.20"/>
<path class="cs" d="M41.10,463.10 L50.40,463.20 L51.10,464.20 L51.50,476.50 L51.90,476.90 L52.60,474.00 L53.50,472.80 L72.80,472.00 L74.80,471.40 L76.70,470.30 L77.40,468.80 L77.90,466.00 L78.10,463.00 L78.30,334.10 L78.55,463.00 L79.10,463.10 L94.90,463.30 L95.50,463.80 L95.90,466.00 L96.10,476.50 L96.40,476.90 L97.10,474.20 L98.10,472.90 L100.80,472.60 L121.80,472.00 L123.80,471.40 L125.70,470.30 L126.40,468.80 L126.90,466.00 L127.10,463.00 L127.30,318.00 L127.55,463.00 L128.10,463.10 L143.90,463.30 L144.50,463.80 L144.90,466.00 L145.10,476.50 L145.40,476.90 L146.10,474.20 L147.10,472.90 L149.80,472.60 L171.40,472.00 L173.40,471.40 L175.30,470.30 L176.00,468.80 L176.50,466.00 L176.70,463.00 L176.90,317.80 L177.15,463.00 L177.70,463.10 L193.50,463.30 L194.10,463.80 L194.50,466.00 L194.70,476.50 L195.00,476.90 L195.70,474.20 L196.70,472.90 L199.40,472.60 L221.20,472.00 L223.20,471.40 L225.10,470.30 L225.80,468.80 L226.30,466.00 L226.50,463.00 L226.70,317.80 L226.95,463.00 L227.50,463.10 L243.30,463.30 L243.90,463.80 L244.30,466.00 L244.50,476.50 L244.80,476.90 L245.50,474.20 L246.50,472.90 L249.20,472.60 L270.80,472.00 L272.80,471.40 L274.70,470.30 L275.40,468.80 L275.90,466.00 L276.10,463.00 L276.30,317.10 L276.55,463.00 L277.10,463.10 L292.90,463.30 L293.50,463.80 L293.90,466.00 L294.10,476.50 L294.40,476.90 L295.10,474.20 L296.10,472.90 L298.80,472.60 L315.90,472.20"/>
<g class="mk"><rect x="39.95" y="148.35" width="5.9" height="5.9"/>
<rect x="73.05" y="128.95" width="5.9" height="5.9"/>
<rect x="106.15" y="23.75" width="5.9" height="5.9"/>
<rect x="138.95" y="138.15" width="5.9" height="5.9"/>
<rect x="171.65" y="131.65" width="5.9" height="5.9"/>
<rect x="204.65" y="21.85" width="5.9" height="5.9"/>
<rect x="237.45" y="139.85" width="5.9" height="5.9"/>
<rect x="270.55" y="128.35" width="5.9" height="5.9"/>
<rect x="303.65" y="21.85" width="5.9" height="5.9"/>
<circle cx="61.20" cy="54.50" r="2.75"/>
<circle cx="93.90" cy="128.70" r="2.75"/>
<circle cx="126.60" cy="153.80" r="2.75"/>
<circle cx="159.50" cy="25.90" r="2.75"/>
<circle cx="192.50" cy="127.10" r="2.75"/>
<circle cx="225.60" cy="152.30" r="2.75"/>
<circle cx="258.10" cy="25.50" r="2.75"/>
<circle cx="291.00" cy="128.70" r="2.75"/>
<rect x="377.65" y="99.05" width="5.9" height="5.9"/>
<rect x="410.35" y="139.25" width="5.9" height="5.9"/>
<rect x="442.95" y="102.05" width="5.9" height="5.9"/>
<rect x="475.35" y="72.55" width="5.9" height="5.9"/>
<rect x="507.95" y="144.45" width="5.9" height="5.9"/>
<rect x="541.55" y="102.05" width="5.9" height="5.9"/>
<rect x="574.15" y="73.15" width="5.9" height="5.9"/>
<rect x="606.25" y="144.45" width="5.9" height="5.9"/>
<rect x="639.45" y="101.65" width="5.9" height="5.9"/>
<circle cx="398.10" cy="101.90" r="2.75"/>
<circle cx="430.60" cy="72.80" r="2.75"/>
<circle cx="463.60" cy="150.20" r="2.75"/>
<circle cx="496.30" cy="109.50" r="2.75"/>
<circle cx="529.20" cy="71.40" r="2.75"/>
<circle cx="562.00" cy="150.20" r="2.75"/>
<circle cx="594.60" cy="109.50" r="2.75"/>
<circle cx="627.20" cy="71.40" r="2.75"/>
<rect x="376.45" y="383.75" width="5.9" height="5.9"/>
<rect x="409.15" y="424.15" width="5.9" height="5.9"/>
<rect x="442.05" y="386.35" width="5.9" height="5.9"/>
<rect x="474.35" y="355.95" width="5.9" height="5.9"/>
<rect x="507.05" y="430.35" width="5.9" height="5.9"/>
<rect x="540.85" y="386.65" width="5.9" height="5.9"/>
<rect x="573.65" y="355.95" width="5.9" height="5.9"/>
<rect x="606.45" y="429.75" width="5.9" height="5.9"/>
<rect x="639.35" y="385.95" width="5.9" height="5.9"/>
<circle cx="396.60" cy="386.20" r="2.75"/>
<circle cx="430.10" cy="355.60" r="2.75"/>
<circle cx="462.80" cy="436.70" r="2.75"/>
<circle cx="495.60" cy="393.30" r="2.75"/>
<circle cx="528.40" cy="354.00" r="2.75"/>
<circle cx="561.00" cy="436.70" r="2.75"/>
<circle cx="594.60" cy="393.30" r="2.75"/>
<circle cx="627.40" cy="354.90" r="2.75"/>
<rect x="39.55" y="460.15" width="5.9" height="5.9"/>
<rect x="64.35" y="469.55" width="5.9" height="5.9"/>
<rect x="89.85" y="460.35" width="5.9" height="5.9"/>
<rect x="115.35" y="469.25" width="5.9" height="5.9"/>
<rect x="141.25" y="460.65" width="5.9" height="5.9"/>
<rect x="166.75" y="468.95" width="5.9" height="5.9"/>
<rect x="192.65" y="473.75" width="5.9" height="5.9"/>
<rect x="218.45" y="468.95" width="5.9" height="5.9"/>
<rect x="244.85" y="470.05" width="5.9" height="5.9"/>
<rect x="269.35" y="468.55" width="5.9" height="5.9"/>
<rect x="295.15" y="469.85" width="5.9" height="5.9"/>
<circle cx="51.80" cy="476.70" r="2.75"/>
<circle cx="77.50" cy="469.20" r="2.75"/>
<circle cx="103.00" cy="472.50" r="2.75"/>
<circle cx="128.70" cy="463.00" r="2.75"/>
<circle cx="154.40" cy="472.50" r="2.75"/>
<circle cx="180.00" cy="462.80" r="2.75"/>
<circle cx="205.60" cy="472.50" r="2.75"/>
<circle cx="231.40" cy="462.80" r="2.75"/>
<circle cx="256.90" cy="472.20" r="2.75"/>
<circle cx="282.90" cy="462.60" r="2.75"/>
<circle cx="308.70" cy="472.20" r="2.75"/></g>
<rect class="ax" x="42.00" y="18.00" width="274.00" height="175.30"/>
<rect class="ax" x="379.70" y="18.60" width="272.80" height="174.50"/>
<rect class="ax" x="41.10" y="302.40" width="274.80" height="174.70"/>
<rect class="ax" x="378.00" y="302.80" width="274.40" height="174.20"/>
<text x="42.00" y="206.70" style="font-size:13.00px" text-anchor="middle">0</text>
<text x="87.67" y="206.70" style="font-size:13.00px" text-anchor="middle" textLength="23.40" lengthAdjust="spacingAndGlyphs">0.05</text>
<text x="133.33" y="206.70" style="font-size:13.00px" text-anchor="middle" textLength="16.80" lengthAdjust="spacingAndGlyphs">0.1</text>
<text x="179.00" y="206.70" style="font-size:13.00px" text-anchor="middle" textLength="23.40" lengthAdjust="spacingAndGlyphs">0.15</text>
<text x="224.67" y="206.70" style="font-size:13.00px" text-anchor="middle" textLength="16.80" lengthAdjust="spacingAndGlyphs">0.2</text>
<text x="270.33" y="206.70" style="font-size:13.00px" text-anchor="middle" textLength="23.40" lengthAdjust="spacingAndGlyphs">0.25</text>
<text x="316.00" y="206.70" style="font-size:13.00px" text-anchor="middle" textLength="16.80" lengthAdjust="spacingAndGlyphs">0.3</text>
<text x="379.70" y="206.70" style="font-size:13.00px" text-anchor="middle">0</text>
<text x="425.17" y="206.70" style="font-size:13.00px" text-anchor="middle" textLength="23.40" lengthAdjust="spacingAndGlyphs">0.05</text>
<text x="470.63" y="206.70" style="font-size:13.00px" text-anchor="middle" textLength="16.80" lengthAdjust="spacingAndGlyphs">0.1</text>
<text x="516.10" y="206.70" style="font-size:13.00px" text-anchor="middle" textLength="23.40" lengthAdjust="spacingAndGlyphs">0.15</text>
<text x="561.57" y="206.70" style="font-size:13.00px" text-anchor="middle" textLength="16.80" lengthAdjust="spacingAndGlyphs">0.2</text>
<text x="607.03" y="206.70" style="font-size:13.00px" text-anchor="middle" textLength="23.40" lengthAdjust="spacingAndGlyphs">0.25</text>
<text x="652.50" y="206.70" style="font-size:13.00px" text-anchor="middle" textLength="16.80" lengthAdjust="spacingAndGlyphs">0.3</text>
<text x="41.10" y="491.00" style="font-size:13.00px" text-anchor="middle">0</text>
<text x="86.90" y="491.00" style="font-size:13.00px" text-anchor="middle" textLength="23.40" lengthAdjust="spacingAndGlyphs">0.05</text>
<text x="132.70" y="491.00" style="font-size:13.00px" text-anchor="middle" textLength="16.80" lengthAdjust="spacingAndGlyphs">0.1</text>
<text x="178.50" y="491.00" style="font-size:13.00px" text-anchor="middle" textLength="23.40" lengthAdjust="spacingAndGlyphs">0.15</text>
<text x="224.30" y="491.00" style="font-size:13.00px" text-anchor="middle" textLength="16.80" lengthAdjust="spacingAndGlyphs">0.2</text>
<text x="270.10" y="491.00" style="font-size:13.00px" text-anchor="middle" textLength="23.40" lengthAdjust="spacingAndGlyphs">0.25</text>
<text x="315.90" y="491.00" style="font-size:13.00px" text-anchor="middle" textLength="16.80" lengthAdjust="spacingAndGlyphs">0.3</text>
<text x="378.00" y="491.00" style="font-size:13.00px" text-anchor="middle">0</text>
<text x="423.73" y="491.00" style="font-size:13.00px" text-anchor="middle" textLength="23.40" lengthAdjust="spacingAndGlyphs">0.05</text>
<text x="469.47" y="491.00" style="font-size:13.00px" text-anchor="middle" textLength="16.80" lengthAdjust="spacingAndGlyphs">0.1</text>
<text x="515.20" y="491.00" style="font-size:13.00px" text-anchor="middle" textLength="23.40" lengthAdjust="spacingAndGlyphs">0.15</text>
<text x="560.93" y="491.00" style="font-size:13.00px" text-anchor="middle" textLength="16.80" lengthAdjust="spacingAndGlyphs">0.2</text>
<text x="606.67" y="491.00" style="font-size:13.00px" text-anchor="middle" textLength="23.40" lengthAdjust="spacingAndGlyphs">0.25</text>
<text x="652.40" y="491.00" style="font-size:13.00px" text-anchor="middle" textLength="16.80" lengthAdjust="spacingAndGlyphs">0.3</text>
<text x="37.40" y="176.60" style="font-size:13.00px" text-anchor="end">2</text>
<text x="37.40" y="135.30" style="font-size:13.00px" text-anchor="end">4</text>
<text x="37.40" y="94.00" style="font-size:13.00px" text-anchor="end">6</text>
<text x="37.40" y="52.70" style="font-size:13.00px" text-anchor="end">8</text>
<text x="360.55" y="37.70" style="font-size:13.00px;" textLength="13.62" lengthAdjust="spacingAndGlyphs">10</text>
<text x="374.40" y="73.90" style="font-size:13.00px" text-anchor="end">5</text>
<text x="374.40" y="110.10" style="font-size:13.00px" text-anchor="end">0</text>
<text x="374.40" y="146.30" style="font-size:13.00px" text-anchor="end">5</text>
<text x="357.29" y="146.30" style="font-size:13.00px;" textLength="9.70" lengthAdjust="spacingAndGlyphs">&#8722;</text>
<text x="360.55" y="182.50" style="font-size:13.00px;" textLength="13.62" lengthAdjust="spacingAndGlyphs">10</text>
<text x="350.49" y="182.50" style="font-size:13.00px;" textLength="9.70" lengthAdjust="spacingAndGlyphs">&#8722;</text>
<text x="35.80" y="481.10" style="font-size:13.00px" text-anchor="end">0</text>
<text x="18.53" y="432.60" style="font-size:13.00px;" textLength="17.05" lengthAdjust="spacingAndGlyphs">0.5</text>
<text x="35.80" y="384.10" style="font-size:13.00px" text-anchor="end">1</text>
<text x="17.80" y="335.50" style="font-size:13.00px;" textLength="17.81" lengthAdjust="spacingAndGlyphs">1.5</text>
<text x="358.95" y="306.80" style="font-size:13.00px;" textLength="13.62" lengthAdjust="spacingAndGlyphs">10</text>
<text x="372.80" y="350.00" style="font-size:13.00px" text-anchor="end">5</text>
<text x="372.80" y="394.00" style="font-size:13.00px" text-anchor="end">0</text>
<text x="372.80" y="437.60" style="font-size:13.00px" text-anchor="end">5</text>
<text x="355.69" y="437.60" style="font-size:13.00px;" textLength="9.70" lengthAdjust="spacingAndGlyphs">&#8722;</text>
<text x="358.95" y="481.00" style="font-size:13.00px;" textLength="13.62" lengthAdjust="spacingAndGlyphs">10</text>
<text x="348.89" y="481.00" style="font-size:13.00px;" textLength="9.70" lengthAdjust="spacingAndGlyphs">&#8722;</text>
<text x="46.22" y="14.04" style="font-size:13.4px;stroke-width:0.3px">&#183;</text>
<text x="50.73" y="13.00" style="font-size:13.70px;" textLength="13.84" lengthAdjust="spacingAndGlyphs">10</text>
<text x="65.37" y="7.90" style="font-size:9.00px;" textLength="6.54" lengthAdjust="spacingAndGlyphs">&#8722;</text>
<text x="73.15" y="7.60" style="font-size:9.00px;">2</text>
<text x="45.27" y="297.34" style="font-size:13.4px;stroke-width:0.3px">&#183;</text>
<text x="49.76" y="297.00" style="font-size:13.70px;" textLength="13.50" lengthAdjust="spacingAndGlyphs">10</text>
<text x="64.35" y="290.80" style="font-size:9.00px;">8</text>
<text x="382.47" y="298.04" style="font-size:13.4px;stroke-width:0.3px">&#183;</text>
<text x="386.89" y="297.00" style="font-size:13.70px;" textLength="13.16" lengthAdjust="spacingAndGlyphs">10</text>
<text x="401.02" y="292.00" style="font-size:9.00px;" textLength="7.15" lengthAdjust="spacingAndGlyphs">&#8722;</text>
<text x="409.16" y="291.30" style="font-size:9.00px;">3</text>
<text x="151.69" y="219.30" style="font-size:13.70px;stroke-width:0.25px;" textLength="30.26" lengthAdjust="spacingAndGlyphs">Time</text>
<text x="190.42" y="220.30" style="font-size:16.00px;stroke-width:0.50px;" textLength="2.39" lengthAdjust="spacingAndGlyphs">[</text>
<text x="195.87" y="219.30" style="font-size:13.10px;stroke-width:0.25px;">s</text>
<text x="203.09" y="220.30" style="font-size:16.00px;stroke-width:0.50px;" textLength="2.39" lengthAdjust="spacingAndGlyphs">]</text>
<text x="488.79" y="219.30" style="font-size:13.70px;stroke-width:0.25px;" textLength="30.26" lengthAdjust="spacingAndGlyphs">Time</text>
<text x="527.52" y="220.30" style="font-size:16.00px;stroke-width:0.50px;" textLength="2.39" lengthAdjust="spacingAndGlyphs">[</text>
<text x="532.97" y="219.30" style="font-size:13.10px;stroke-width:0.25px;">s</text>
<text x="540.19" y="220.30" style="font-size:16.00px;stroke-width:0.50px;" textLength="2.39" lengthAdjust="spacingAndGlyphs">]</text>
<text x="151.19" y="503.60" style="font-size:13.70px;stroke-width:0.25px;" textLength="30.26" lengthAdjust="spacingAndGlyphs">Time</text>
<text x="189.92" y="504.60" style="font-size:16.00px;stroke-width:0.50px;" textLength="2.39" lengthAdjust="spacingAndGlyphs">[</text>
<text x="195.37" y="503.60" style="font-size:13.10px;stroke-width:0.25px;">s</text>
<text x="202.59" y="504.60" style="font-size:16.00px;stroke-width:0.50px;" textLength="2.39" lengthAdjust="spacingAndGlyphs">]</text>
<text x="487.89" y="503.60" style="font-size:13.70px;stroke-width:0.25px;" textLength="30.26" lengthAdjust="spacingAndGlyphs">Time</text>
<text x="526.62" y="504.60" style="font-size:16.00px;stroke-width:0.50px;" textLength="2.39" lengthAdjust="spacingAndGlyphs">[</text>
<text x="532.07" y="503.60" style="font-size:13.10px;stroke-width:0.25px;">s</text>
<text x="539.29" y="504.60" style="font-size:16.00px;stroke-width:0.50px;" textLength="2.39" lengthAdjust="spacingAndGlyphs">]</text>
<text transform="translate(10.70,159.40) rotate(-90)" x="0.04" y="0" style="font-size:13.70px;stroke-width:0.25px" textLength="77.39" lengthAdjust="spacingAndGlyphs">Displacement</text>
<text transform="translate(11.70,72.30) rotate(-90)" x="-0.25" y="0" style="font-size:16.00px;stroke-width:0.50px" textLength="3.14" lengthAdjust="spacingAndGlyphs">[</text>
<text transform="translate(10.70,67.70) rotate(-90)" x="0.11" y="0" style="font-size:13.70px;stroke-width:0.25px" textLength="12.70" lengthAdjust="spacingAndGlyphs">m</text>
<text transform="translate(11.70,53.80) rotate(-90)" x="0.26" y="0" style="font-size:16.00px;stroke-width:0.50px" textLength="1.79" lengthAdjust="spacingAndGlyphs">]</text>
<text transform="translate(345.90,152.50) rotate(-90)" x="0.30" y="0" style="font-size:13.70px;stroke-width:0.25px" textLength="47.41" lengthAdjust="spacingAndGlyphs">Velocity</text>
<text transform="translate(346.90,97.20) rotate(-90)" x="0.02" y="0" style="font-size:16.00px;stroke-width:0.50px" textLength="1.94" lengthAdjust="spacingAndGlyphs">[</text>
<text transform="translate(345.90,93.30) rotate(-90)" x="0.13" y="0" style="font-size:13.70px;stroke-width:0.25px" textLength="11.86" lengthAdjust="spacingAndGlyphs">m</text>
<text transform="translate(345.90,78.90) rotate(-90)" x="0.45" y="0" style="font-size:13.70px;stroke-width:0.25px" textLength="5.80" lengthAdjust="spacingAndGlyphs">/</text>
<text transform="translate(345.90,70.60) rotate(-90)" x="-0.20" y="0" style="font-size:13.70px;stroke-width:0.25px">s</text>
<text transform="translate(346.90,62.40) rotate(-90)" x="0.21" y="0" style="font-size:16.00px;stroke-width:0.50px" textLength="2.24" lengthAdjust="spacingAndGlyphs">]</text>
<text transform="translate(10.50,431.50) rotate(-90)" x="0.03" y="0" style="font-size:13.70px;stroke-width:0.25px" textLength="49.83" lengthAdjust="spacingAndGlyphs">Pressure</text>
<text transform="translate(11.50,372.80) rotate(-90)" x="-0.18" y="0" style="font-size:16.00px;stroke-width:0.50px" textLength="2.84" lengthAdjust="spacingAndGlyphs">[</text>
<text transform="translate(10.50,367.80) rotate(-90)" x="-0.03" y="0" style="font-size:13.70px;stroke-width:0.25px" textLength="16.50" lengthAdjust="spacingAndGlyphs">Pa</text>
<text transform="translate(11.50,350.40) rotate(-90)" x="0.21" y="0" style="font-size:16.00px;stroke-width:0.50px" textLength="2.24" lengthAdjust="spacingAndGlyphs">]</text>
<text transform="translate(347.90,431.90) rotate(-90)" x="0.06" y="0" style="font-size:13.70px;stroke-width:0.25px" textLength="28.05" lengthAdjust="spacingAndGlyphs">Flow</text>
<text transform="translate(348.90,395.00) rotate(-90)" x="-0.18" y="0" style="font-size:16.00px;stroke-width:0.50px" textLength="2.84" lengthAdjust="spacingAndGlyphs">[</text>
<text transform="translate(347.90,388.50) rotate(-90)" x="0.19" y="0" style="font-size:13.70px;stroke-width:0.25px" textLength="9.76" lengthAdjust="spacingAndGlyphs">m</text>
<text transform="translate(341.10,376.00) rotate(-90)" x="-0.24" y="0" style="font-size:9.00px;stroke-width:0.25px">3</text>
<text transform="translate(347.90,367.70) rotate(-90)" x="0.45" y="0" style="font-size:13.70px;stroke-width:0.25px" textLength="5.60" lengthAdjust="spacingAndGlyphs">/</text>
<text transform="translate(347.90,358.90) rotate(-90)" x="-0.15" y="0" style="font-size:13.70px;stroke-width:0.25px">s</text>
<text transform="translate(348.90,351.00) rotate(-90)" x="0.22" y="0" style="font-size:16.00px;stroke-width:0.50px" textLength="2.09" lengthAdjust="spacingAndGlyphs">]</text>
<text x="84.81" y="250.60" style="font-size:16.80px;font-weight:bold;stroke-width:0.6px;" textLength="19.68" lengthAdjust="spacingAndGlyphs">(a)</text>
<text x="112.41" y="252.20" style="font-size:16.80px;" textLength="47.03" lengthAdjust="spacingAndGlyphs">Piston</text>
<text x="167.08" y="252.20" style="font-size:16.80px;" textLength="97.98" lengthAdjust="spacingAndGlyphs">displacement</text>
<text x="441.09" y="250.60" style="font-size:16.80px;font-weight:bold;stroke-width:0.6px;" textLength="21.01" lengthAdjust="spacingAndGlyphs">(b)</text>
<text x="469.30" y="252.20" style="font-size:16.80px;" textLength="47.94" lengthAdjust="spacingAndGlyphs">Piston</text>
<text x="524.95" y="252.20" style="font-size:16.80px;" textLength="57.07" lengthAdjust="spacingAndGlyphs">velocity</text>
<text x="82.56" y="534.80" style="font-size:16.80px;font-weight:bold;stroke-width:0.6px;" textLength="19.98" lengthAdjust="spacingAndGlyphs">(c)</text>
<text x="110.51" y="536.40" style="font-size:16.80px;" textLength="63.39" lengthAdjust="spacingAndGlyphs">Pressure</text>
<text x="180.49" y="536.40" style="font-size:16.80px;" textLength="13.32" lengthAdjust="spacingAndGlyphs">in</text>
<text x="200.18" y="536.40" style="font-size:16.80px;" textLength="50.04" lengthAdjust="spacingAndGlyphs">Cavity</text>
<text x="257.29" y="536.40" style="font-size:16.80px;" textLength="11.88" lengthAdjust="spacingAndGlyphs">A</text>
<text x="426.59" y="534.80" style="font-size:16.80px;font-weight:bold;stroke-width:0.6px;" textLength="21.12" lengthAdjust="spacingAndGlyphs">(d)</text>
<text x="454.54" y="536.40" style="font-size:16.80px;" textLength="36.39" lengthAdjust="spacingAndGlyphs">Flow</text>
<text x="497.55" y="536.40" style="font-size:16.80px;" textLength="29.31" lengthAdjust="spacingAndGlyphs">into</text>
<text x="532.88" y="536.40" style="font-size:16.80px;" textLength="50.04" lengthAdjust="spacingAndGlyphs">Cavity</text>
<text x="590.19" y="536.40" style="font-size:16.80px;" textLength="12.09" lengthAdjust="spacingAndGlyphs">A</text>
<rect class="lg" x="667.7" y="32.6" width="116" height="37.4"/>
<line class="ref" x1="671.8" y1="43" x2="694.4" y2="43" style="stroke-dasharray:2.6 2.6;stroke:#777;stroke-width:1.2"/>
<rect class="mkl" x="680.25" y="40.05" width="5.9" height="5.9"/>
<line class="cs" x1="671.8" y1="59.4" x2="694.4" y2="59.4"/>
<circle class="mkl" cx="683.2" cy="59.4" r="2.75"/>
<text x="697.45" y="46.20" style="font-size:12.80px;" textLength="59.45" lengthAdjust="spacingAndGlyphs">Reference;</text>
<text x="697.28" y="63.00" style="font-size:12.80px;" textLength="79.48" lengthAdjust="spacingAndGlyphs">Co-simulation</text>
</g>
</svg></body></html>
